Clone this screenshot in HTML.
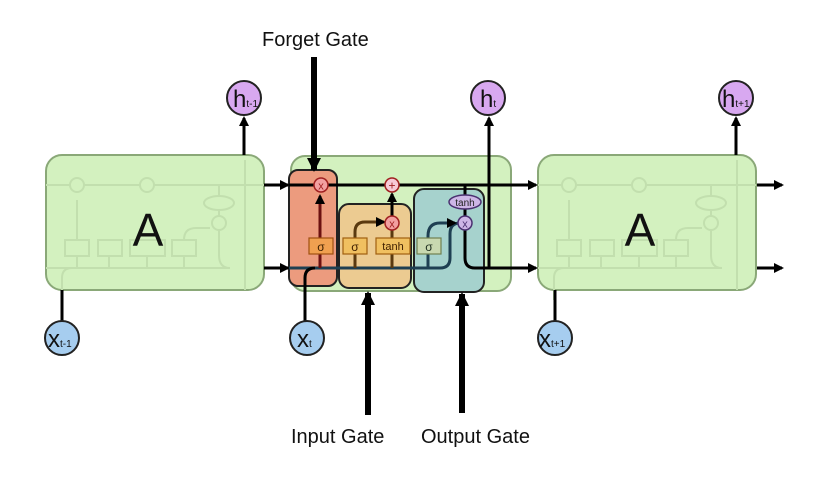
<!DOCTYPE html>
<html><head><meta charset="utf-8"><style>html,body{margin:0;padding:0;background:#fff}svg{display:block}</style></head>
<body>
<svg width="818" height="488" viewBox="0 0 818 488" xmlns="http://www.w3.org/2000/svg" font-family="Liberation Sans, sans-serif">
<defs>
<marker id="ah" markerWidth="10" markerHeight="10" refX="8" refY="5" orient="auto" markerUnits="userSpaceOnUse"><path d="M0,0 L10,5 L0,10 z" fill="#000"/></marker>
<marker id="ah2" markerWidth="16" markerHeight="14" refX="12" refY="7" orient="auto" markerUnits="userSpaceOnUse"><path d="M0,0 L14,7 L0,14 z" fill="#000"/></marker>
<g id="faded">
<rect x="46" y="155" width="218" height="135" rx="16" fill="#d3f1bf" stroke="#8aa878" stroke-width="2"/>
<g stroke="#c2dfae" stroke-width="2" fill="none">
<line x1="46" y1="185" x2="264" y2="185"/>
<path d="M46,268 H230 Q219,268 219,255 V230"/>
<path d="M77,268 V200"/><path d="M109,268 V248"/><path d="M147,268 V248"/>
<path d="M184,268 V240 Q184,228 196,228 H210"/>
<line x1="219" y1="185" x2="219" y2="216"/>
<line x1="245" y1="160" x2="245" y2="290"/>
<path d="M62,300 V278 Q62,268 72,268"/>
<circle cx="77" cy="185" r="7" fill="#d3f1bf"/><circle cx="147" cy="185" r="7" fill="#d3f1bf"/>
<circle cx="219" cy="223" r="7" fill="#d3f1bf"/><ellipse cx="219" cy="203" rx="15" ry="7" fill="#d3f1bf"/>
<rect x="65" y="240" width="24" height="16" fill="#d3f1bf"/><rect x="98" y="240" width="24" height="16" fill="#d3f1bf"/>
<rect x="130" y="240" width="35" height="16" fill="#d3f1bf"/><rect x="172" y="240" width="24" height="16" fill="#d3f1bf"/>
</g>
<text x="148" y="246" font-size="46" text-anchor="middle" fill="#111">A</text>
</g>
</defs>
<use href="#faded"/>
<use href="#faded" transform="translate(492,0)"/>
<line x1="244" y1="155" x2="244" y2="118" stroke="#000" stroke-width="3" marker-end="url(#ah)"/>
<line x1="736" y1="155" x2="736" y2="118" stroke="#000" stroke-width="3" marker-end="url(#ah)"/>
<line x1="62" y1="290" x2="62" y2="322" stroke="#000" stroke-width="3"/>
<line x1="555" y1="290" x2="555" y2="322" stroke="#000" stroke-width="3"/>
<rect x="291" y="156" width="220" height="135" rx="14" fill="#d3f1bf" stroke="#8aa878" stroke-width="2"/>
<rect x="289" y="170" width="48" height="116" rx="9" fill="#ec9b7e" stroke="#222" stroke-width="2"/>
<rect x="339" y="204" width="72" height="84" rx="10" fill="#eccb91" stroke="#222" stroke-width="2"/>
<rect x="414" y="189" width="70" height="103" rx="10" fill="#a6d2cd" stroke="#222" stroke-width="2"/>
<line x1="264" y1="185" x2="288" y2="185" stroke="#000" stroke-width="3" marker-end="url(#ah)"/>
<line x1="264" y1="268" x2="288" y2="268" stroke="#000" stroke-width="3" marker-end="url(#ah)"/>
<line x1="757" y1="185" x2="782" y2="185" stroke="#000" stroke-width="3" marker-end="url(#ah)"/>
<line x1="757" y1="268" x2="782" y2="268" stroke="#000" stroke-width="3" marker-end="url(#ah)"/>
<line x1="289" y1="185" x2="536" y2="185" stroke="#000" stroke-width="3" marker-end="url(#ah)"/>
<path d="M289,268 H440 Q450,268 450,258 V234 Q450,223 460,223" stroke="#1e3f52" stroke-width="3" fill="none"/>
<path d="M305,325 V278 Q305,268 315,268" stroke="#000" stroke-width="3" fill="none"/>
<line x1="320" y1="268" x2="320" y2="196" stroke="#6b1010" stroke-width="3" marker-end="url(#ah)"/>
<path d="M355,268 V232 Q355,222 365,222 H384" stroke="#5a3a10" stroke-width="3" fill="none" marker-end="url(#ah)"/>
<line x1="392" y1="268" x2="392" y2="230" stroke="#5a3a10" stroke-width="3"/>
<line x1="392" y1="216" x2="392" y2="194" stroke="#000" stroke-width="3" marker-end="url(#ah)"/>
<path d="M428,268 V236 Q428,223 440,223 H455" stroke="#1e3f52" stroke-width="3" fill="none" marker-end="url(#ah)"/>
<line x1="465" y1="185" x2="465" y2="216" stroke="#000" stroke-width="3"/>
<path d="M465,230 V258 Q465,268 475,268 H536" stroke="#000" stroke-width="3" fill="none" marker-end="url(#ah)"/>
<line x1="489" y1="268" x2="489" y2="118" stroke="#000" stroke-width="3" marker-end="url(#ah)"/>
<circle cx="321" cy="185" r="7" fill="#f2a0a0" stroke="#a02020" stroke-width="1.5"/><text x="321" y="189.5" font-size="11" text-anchor="middle" fill="#a02020">x</text>
<circle cx="392" cy="185" r="7" fill="#f7c9d6" stroke="#a02020" stroke-width="1.5"/><text x="392" y="189.5" font-size="12" text-anchor="middle" fill="#a02020">+</text>
<circle cx="392" cy="223" r="7" fill="#f2a0a0" stroke="#a02020" stroke-width="1.5"/><text x="392" y="227.5" font-size="11" text-anchor="middle" fill="#a02020">x</text>
<circle cx="465" cy="223" r="7" fill="#cdb6e6" stroke="#4a3070" stroke-width="1.5"/><text x="465" y="227.5" font-size="11" text-anchor="middle" fill="#4a3070">x</text>
<ellipse cx="465" cy="202" rx="16" ry="7" fill="#cdb6e6" stroke="#4a3070" stroke-width="1.5"/><text x="465" y="206" font-size="10" text-anchor="middle" fill="#222">tanh</text>
<rect x="309" y="238" width="24" height="16" fill="#f0a050" stroke="#a05010" stroke-width="1.2"/><text x="321" y="251" font-size="12" text-anchor="middle" fill="#402000">σ</text>
<rect x="343" y="238" width="24" height="16" fill="#f0c060" stroke="#a06010" stroke-width="1.2"/><text x="355" y="251" font-size="12" text-anchor="middle" fill="#402000">σ</text>
<rect x="376" y="238" width="34" height="16" fill="#f0c060" stroke="#a06010" stroke-width="1.2"/><text x="393" y="250" font-size="11" text-anchor="middle" fill="#402000">tanh</text>
<rect x="417" y="238" width="24" height="16" fill="#c8d8b0" stroke="#708050" stroke-width="1.2"/><text x="429" y="251" font-size="12" text-anchor="middle" fill="#203020">σ</text>
<g stroke="#222" stroke-width="2">
<circle cx="244" cy="98" r="17" fill="#d8a8f0"/><circle cx="488" cy="98" r="17" fill="#d8a8f0"/><circle cx="736" cy="98" r="17" fill="#d8a8f0"/>
<circle cx="62" cy="338" r="17" fill="#a6cdef"/><circle cx="307" cy="338" r="17" fill="#a6cdef"/><circle cx="555" cy="338" r="17" fill="#a6cdef"/>
</g>
<g fill="#111">
<text x="233" y="107" font-size="24">h<tspan font-size="10">t-1</tspan></text>
<text x="480" y="107" font-size="24">h<tspan font-size="10">t</tspan></text>
<text x="722" y="107" font-size="24">h<tspan font-size="10">t+1</tspan></text>
<text x="48" y="347" font-size="24">x<tspan font-size="10">t-1</tspan></text>
<text x="297" y="347" font-size="24">x<tspan font-size="10">t</tspan></text>
<text x="539" y="347" font-size="24">x<tspan font-size="10">t+1</tspan></text>
</g>
<line x1="314" y1="57" x2="314" y2="170" stroke="#000" stroke-width="6" marker-end="url(#ah2)"/>
<line x1="368" y1="415" x2="368" y2="293" stroke="#000" stroke-width="6" marker-end="url(#ah2)"/>
<line x1="462" y1="413" x2="462" y2="294" stroke="#000" stroke-width="6" marker-end="url(#ah2)"/>
<g font-size="20" fill="#111">
<text x="262" y="46">Forget Gate</text>
<text x="291" y="443">Input Gate</text>
<text x="421" y="443">Output Gate</text>
</g>
</svg>
</body></html>
